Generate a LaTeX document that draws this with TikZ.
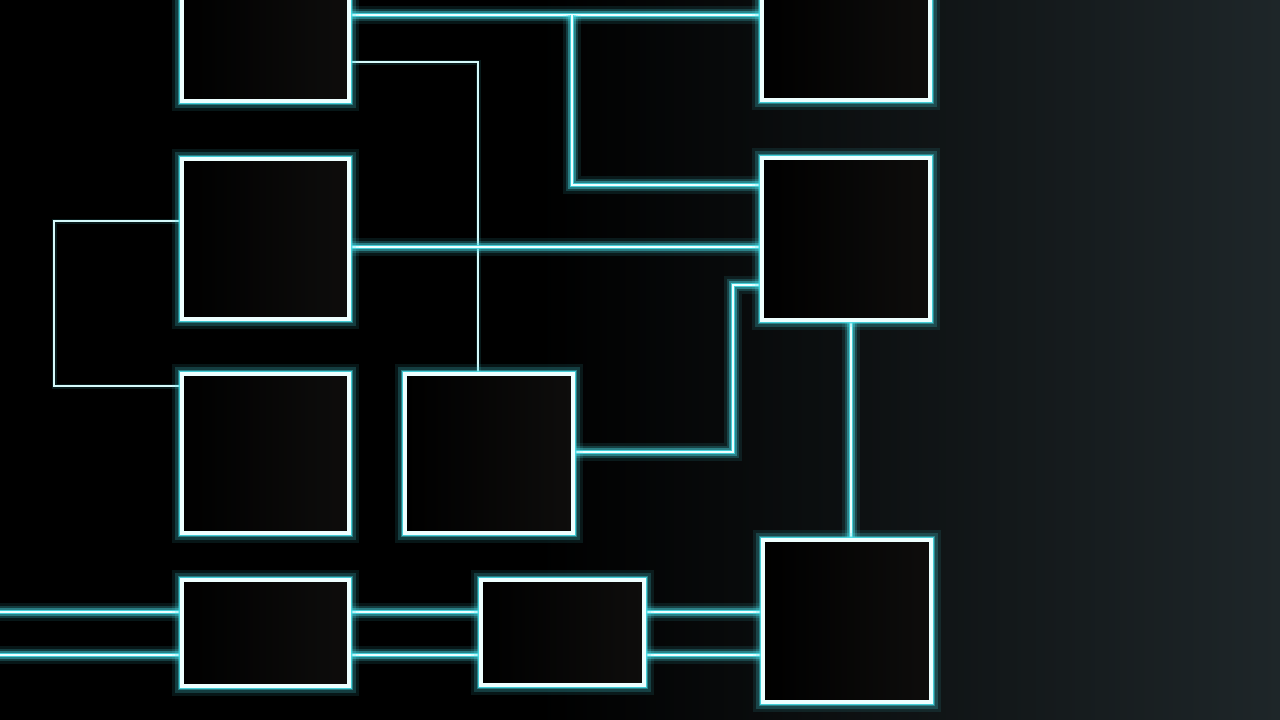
\documentclass[tikz,border=0pt]{standalone}
\definecolor{glowc}{HTML}{48DCE6}
\definecolor{corec}{HTML}{EEFFFF}
\definecolor{bgright}{HTML}{1E2629}
\definecolor{boxright}{HTML}{0E0D0C}
\pgfdeclarehorizontalshading{bgfade}{100bp}{color(0bp)=(black); color(46bp)=(black); color(75bp)=(bgright); color(100bp)=(bgright)}
\pgfdeclarelayer{backdrop}
\pgfdeclarelayer{wires}
\pgfsetlayers{backdrop,wires,main}
\begin{document}
\begin{tikzpicture}[
        x=1pt, y=-1pt,
        glow/.style={preaction={draw=glowc, line width=#1+16pt, opacity=.1},
            preaction={draw=glowc, line width=#1+10pt, opacity=.2},
            preaction={draw=glowc, line width=#1+5pt, opacity=.4},
            preaction={draw=glowc, line width=#1+2pt, opacity=.85},
            draw=corec, line width=#1},
        glow/.default=3pt,
        panel/.style={rectangle, glow=3.2pt, left color=black, right color=boxright,
            inner sep=0pt, minimum width=168pt, minimum height=160pt},
        wire/.style={glow=2.4pt},
        thinwire/.style={preaction={draw=glowc, line width=5pt, opacity=.12},
            preaction={draw=glowc, line width=2.4pt, opacity=.5},
            draw=corec!85!glowc, line width=1.1pt},
    ]
    \useasboundingbox (0,0) rectangle (1280,720);
    \begin{pgfonlayer}{backdrop}
    \shade[shading=bgfade] (0,0) rectangle (1280,720);
    \end{pgfonlayer}
    \node[panel, minimum width=167pt] (topl) at (265.5,21) {};
    \node[panel] (topr) at (846,20) {};
    \node[panel, minimum width=167pt] (midl) at (265.5,239) {};
    \node[panel, minimum height=162pt] (midr) at (846,239) {};
    \node[panel, minimum width=167pt, minimum height=159pt] (lowl) at (265.5,453.5) {};
    \node[panel, minimum height=159pt] (lowm) at (489,453.5) {};
    \node[panel, minimum width=167pt, minimum height=106pt] (botl) at (265.5,633) {};
    \node[panel, minimum width=163pt, minimum height=105pt] (botm) at (562.5,632.5) {};
    \node[panel, minimum height=162pt] (botr) at (847,621) {};
    \begin{pgfonlayer}{wires}
    \coordinate (split) at (572,15);
    \draw[wire] (topl.east |- 0,15) -- (topr.west |- 0,15);
    \draw[wire] (split) -- (572,185) -- (midr.west |- 0,185);
    \draw[thinwire] (topl.east |- 0,62) -| ([xshift=-11pt]lowm.north);
    \draw[wire] (midl.east |- 0,247) -- (midr.west |- 0,247);
    \draw[thinwire] (midl.west |- 0,221) -- (54,221) -- (54,386) -- (lowl.west |- 0,386);
    \draw[wire] (lowm.east |- 0,452) -| (733,285) -- (midr.west |- 0,285);
    \draw[wire] ([xshift=5pt]midr.south) -- ([xshift=4pt]botr.north);
    \foreach \y in {612,655}{
        \coordinate (edge\y) at (0,\y);
        \draw[wire] (edge\y) -- (botl.west |- 0,\y);
        \draw[wire] (botl.east |- 0,\y) -- (botm.west |- 0,\y);
        \draw[wire] (botm.east |- 0,\y) -- (botr.west |- 0,\y);
    }
    \end{pgfonlayer}
\end{tikzpicture}
\end{document}
